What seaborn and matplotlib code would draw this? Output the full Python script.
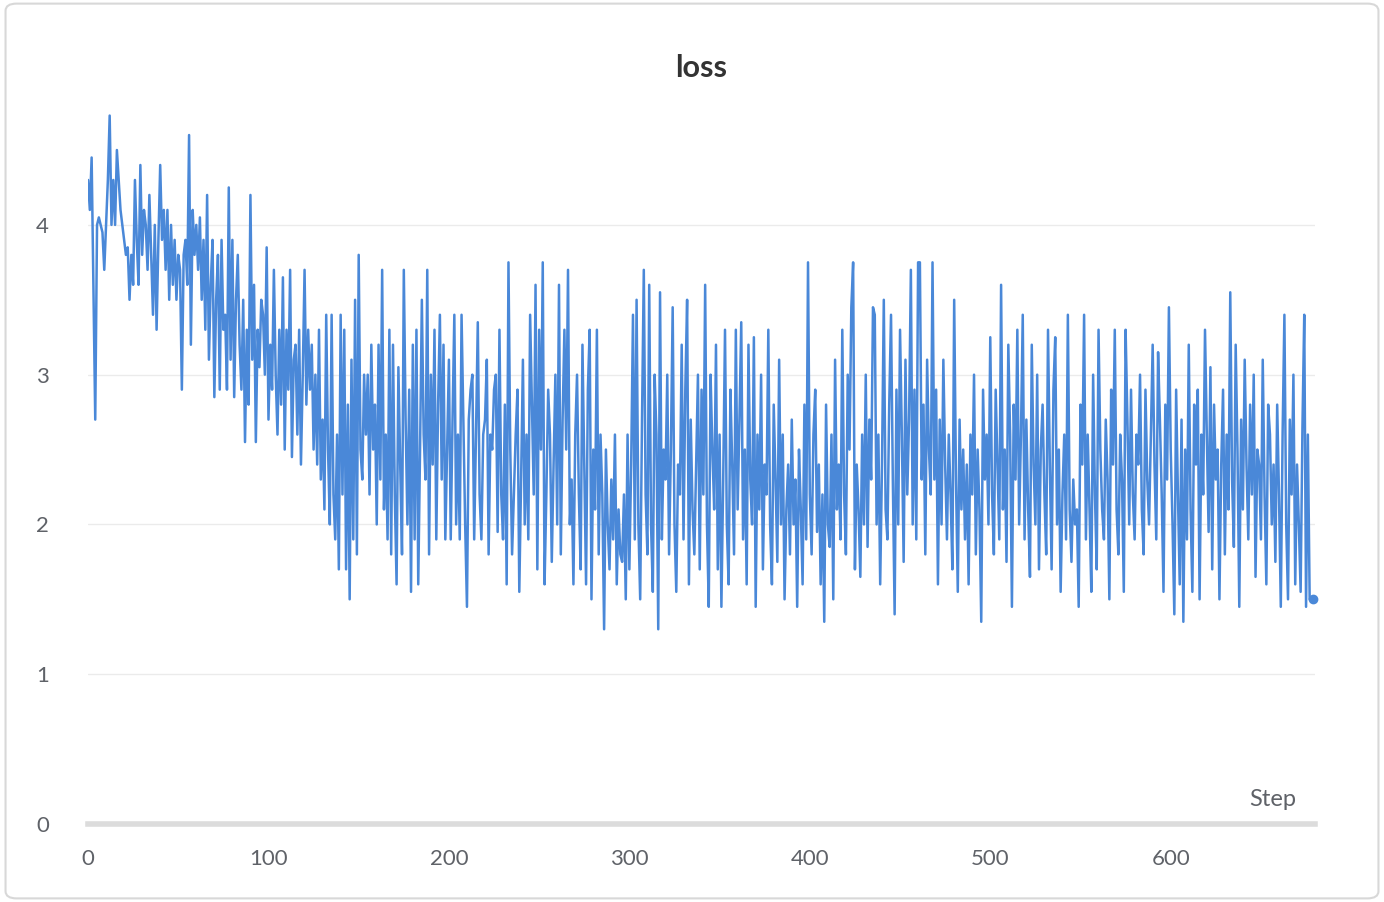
import numpy as np
import pandas as pd
import matplotlib
matplotlib.use("Agg")
import matplotlib.pyplot as plt
import seaborn as sns
from matplotlib.patches import FancyBboxPatch

# loss per step in blocks of 20 steps
loss_values = [
    4.3, 4.1, 4.45, 3.6, 2.7, 4.0, 4.05, 4.0, 3.95, 3.7, 4.0, 4.3, 4.73, 4.0, 4.3, 4.0, 4.5, 4.3, 4.1, 4.0,
    3.9, 3.8, 3.85, 3.5, 3.8, 3.6, 4.3, 3.9, 3.6, 4.4, 3.8, 4.1, 4.0, 3.7, 4.2, 3.8, 3.4, 4.0, 3.3, 3.9,
    4.4, 3.9, 4.1, 3.7, 4.1, 3.5, 4.0, 3.6, 3.9, 3.5, 3.8, 3.7, 2.9, 3.8, 3.9, 3.6, 4.6, 3.2, 4.1, 3.8,
    4.0, 3.7, 4.05, 3.5, 3.9, 3.3, 4.2, 3.1, 3.6, 3.9, 2.85, 3.5, 3.8, 2.9, 3.9, 3.3, 3.4, 2.9, 4.25, 3.1,
    3.9, 2.85, 3.5, 3.8, 3.2, 2.9, 3.5, 2.55, 3.3, 2.8, 4.2, 3.1, 3.6, 2.55, 3.3, 3.05, 3.5, 3.4, 3.0, 3.85,
    2.7, 3.2, 2.9, 3.7, 3.0, 2.6, 3.3, 2.8, 3.65, 2.5, 3.3, 2.9, 3.7, 2.45, 3.1, 3.2, 2.6, 3.3, 2.4, 3.0,
    3.7, 2.8, 3.3, 2.9, 3.2, 2.5, 3.0, 2.4, 3.3, 2.3, 2.7, 2.1, 3.4, 2.5, 2.0, 3.4, 2.2, 1.9, 2.6, 1.7,
    3.4, 2.2, 3.3, 1.7, 2.8, 1.5, 3.1, 1.9, 3.5, 1.8, 3.8, 2.5, 2.3, 3.0, 2.6, 3.0, 2.2, 3.2, 2.5, 2.8,
    2.0, 3.2, 2.3, 3.7, 2.1, 2.6, 1.9, 3.3, 1.8, 3.2, 2.2, 1.6, 3.05, 2.4, 1.8, 3.7, 2.7, 2.0, 2.9, 1.55,
    3.2, 1.9, 3.3, 1.6, 2.5, 3.5, 2.6, 2.3, 3.7, 1.8, 3.0, 2.4, 3.3, 1.9, 2.8, 3.4, 2.3, 3.2, 1.9, 2.5,
    3.1, 1.9, 2.7, 3.4, 2.0, 2.6, 1.9, 3.4, 2.7, 2.0, 1.45, 2.7, 2.9, 3.0, 1.9, 2.6, 3.35, 2.2, 1.9, 2.6,
    2.7, 3.1, 1.8, 2.6, 2.5, 2.9, 3.0, 1.95, 3.3, 2.2, 1.9, 2.8, 1.6, 3.75, 2.5, 1.8, 2.2, 2.6, 2.9, 1.55,
    2.3, 3.1, 2.0, 2.6, 1.9, 3.4, 2.8, 2.2, 3.6, 1.7, 3.3, 2.5, 3.75, 1.6, 2.2, 2.9, 2.6, 1.75, 2.4, 3.0,
    2.0, 3.6, 1.8, 2.7, 3.3, 2.5, 3.7, 2.0, 2.3, 1.6, 2.6, 3.0, 2.2, 1.7, 3.2, 2.4, 1.6, 2.9, 3.3, 1.5,
    2.5, 2.1, 3.3, 1.8, 2.6, 2.2, 1.3, 2.5, 2.0, 1.7, 2.3, 1.9, 2.6, 1.6, 2.1, 1.8, 1.75, 2.2, 1.5, 2.6,
    1.7, 2.4, 3.4, 1.9, 3.5, 2.0, 1.5, 2.7, 3.7, 2.2, 1.8, 3.6, 2.0, 1.55, 3.0, 2.6, 1.3, 3.55, 1.9, 2.5,
    2.3, 3.0, 1.8, 2.5, 3.45, 2.0, 1.55, 2.4, 2.2, 3.2, 1.9, 2.9, 3.5, 1.6, 2.7, 2.1, 1.8, 2.4, 3.0, 1.7,
    2.9, 2.2, 3.6, 2.0, 1.45, 3.0, 2.5, 2.1, 3.2, 1.7, 2.6, 1.45, 2.3, 3.3, 2.0, 1.6, 2.9, 2.4, 1.8, 3.3,
    2.1, 2.7, 3.35, 1.9, 2.5, 1.6, 3.2, 2.3, 2.0, 3.25, 1.45, 2.6, 2.1, 3.0, 1.7, 2.4, 2.2, 3.3, 2.0, 1.6,
    2.8, 2.3, 1.75, 3.1, 2.0, 2.6, 1.5, 2.1, 2.4, 1.8, 2.7, 2.0, 2.3, 1.45, 2.5, 2.1, 1.6, 2.8, 1.9, 3.75,
    2.2, 1.8, 2.6, 2.9, 1.95, 2.4, 1.6, 2.2, 1.35, 2.8, 2.0, 1.85, 2.6, 1.5, 3.1, 2.1, 2.4, 1.9, 3.3, 2.2,
    1.8, 3.0, 2.5, 3.45, 3.75, 1.7, 2.4, 2.1, 1.65, 2.6, 2.0, 3.0, 1.85, 2.7, 2.3, 3.45, 3.4, 2.0, 2.6, 1.6,
    2.4, 3.5, 2.1, 1.9, 2.8, 3.4, 2.3, 1.4, 2.9, 2.0, 3.3, 2.6, 1.75, 3.1, 2.2, 2.7, 3.7, 2.0, 2.9, 1.9,
    3.75, 3.75, 2.3, 2.8, 1.8, 3.1, 2.5, 2.2, 3.75, 2.3, 2.9, 1.6, 2.7, 2.0, 3.1, 2.4, 1.9, 2.6, 2.2, 1.7,
    3.5, 2.3, 1.55, 2.7, 2.1, 2.5, 1.9, 2.4, 1.6, 2.6, 2.2, 3.0, 1.8, 2.5, 2.1, 1.35, 2.9, 2.3, 2.6, 2.0,
    3.25, 2.2, 1.8, 2.9, 2.4, 1.9, 3.6, 2.1, 2.5, 1.75, 3.2, 2.6, 1.45, 2.8, 2.3, 3.3, 2.0, 2.6, 3.4, 1.9,
    2.7, 2.1, 1.65, 3.2, 2.4, 2.0, 3.0, 1.7, 2.5, 2.8, 2.2, 1.8, 3.3, 2.4, 1.7, 2.9, 3.25, 2.0, 2.5, 1.55,
    2.2, 2.6, 1.9, 3.4, 2.1, 1.75, 2.3, 2.0, 2.1, 1.45, 2.8, 2.4, 3.4, 1.9, 2.6, 2.1, 1.55, 3.0, 2.2, 1.7,
    3.3, 2.5, 2.1, 1.9, 2.7, 2.3, 1.5, 2.9, 2.4, 3.3, 2.1, 1.8, 2.6, 2.3, 1.55, 3.3, 2.7, 2.0, 2.9, 2.2,
    1.9, 2.6, 2.4, 3.0, 2.1, 1.8, 2.9, 2.3, 2.0, 2.6, 3.2, 2.4, 1.9, 3.15, 2.7, 2.2, 1.55, 2.8, 2.3, 3.45,
    2.5, 2.0, 1.4, 2.9, 2.2, 1.6, 2.7, 1.35, 2.5, 1.9, 3.2, 2.1, 1.55, 2.8, 2.4, 2.9, 1.5, 2.6, 2.2, 3.3,
    2.6, 1.95, 3.05, 1.7, 2.8, 2.3, 2.5, 1.5, 2.4, 2.9, 1.8, 2.6, 2.1, 3.55, 2.3, 1.85, 3.2, 2.5, 1.45, 2.7,
    2.1, 3.1, 2.4, 1.9, 2.8, 2.2, 3.0, 1.65, 2.5, 2.4, 1.9, 3.1, 2.2, 1.6, 2.8, 2.6, 2.0, 2.4, 1.75, 2.8,
    2.2, 1.45, 2.6, 3.4, 2.0, 1.5, 2.7, 2.2, 3.0, 1.6, 2.4, 2.0, 1.55, 2.65, 3.4, 1.45, 2.6, 1.5, 1.5, 1.5,
]
steps = np.arange(len(loss_values))
x_ticks = [0, 100, 200, 300, 400, 500, 600]
y_ticks = [0, 1, 2, 3, 4]

df = pd.DataFrame({"Step": steps, "loss": loss_values})

sns.set_style("white")
plt.rcParams["font.family"] = ["Lato", "DejaVu Sans"]

LINE = "#4a88d8"
TEXT = "#5f6268"

fig = plt.figure(figsize=(13.84, 9.02), dpi=100)
ax = fig.add_axes([0.0636, 0.0865, 0.8866, 0.797])

sns.lineplot(data=df, x="Step", y="loss", color=LINE, linewidth=1.8, ax=ax)
ax.plot(steps[-1], loss_values[-1], "o", color=LINE, markersize=6, clip_on=False)

ax.set_xlim(0, 680)
ax.set_ylim(0, 4.8)
ax.set_xticks(x_ticks)
ax.set_yticks(y_ticks)
ax.set_xlabel("")
ax.set_ylabel("")
for y in y_ticks[1:]:
    ax.axhline(y, color="#ebebeb", lw=1, zorder=0)
for s in ["top", "right", "left"]:
    ax.spines[s].set_visible(False)
ax.spines["bottom"].set_color("#dcdcdc")
ax.spines["bottom"].set_linewidth(4)
ax.tick_params(axis="x", colors="#dcdcdc", length=8, width=1.5, labelcolor=TEXT, labelsize=16, pad=10)
ax.tick_params(axis="y", length=0, labelcolor=TEXT, labelsize=16, pad=28)

ax.set_title("loss", fontsize=22, fontweight="bold", color="#333333", pad=20)
ax.text(0.985, 0.02, "Step", transform=ax.transAxes, ha="right", va="bottom", fontsize=17, color=TEXT)

# rounded card border drawn on top, transparent fill
fig.patches.append(FancyBboxPatch((0.004, 0.004), 0.992, 0.992, boxstyle="round,pad=0,rounding_size=0.008",
                                  transform=fig.transFigure, fc="none", ec="#d8d8d8", lw=1.5, zorder=10))

fig.savefig("out.png", dpi=100)
